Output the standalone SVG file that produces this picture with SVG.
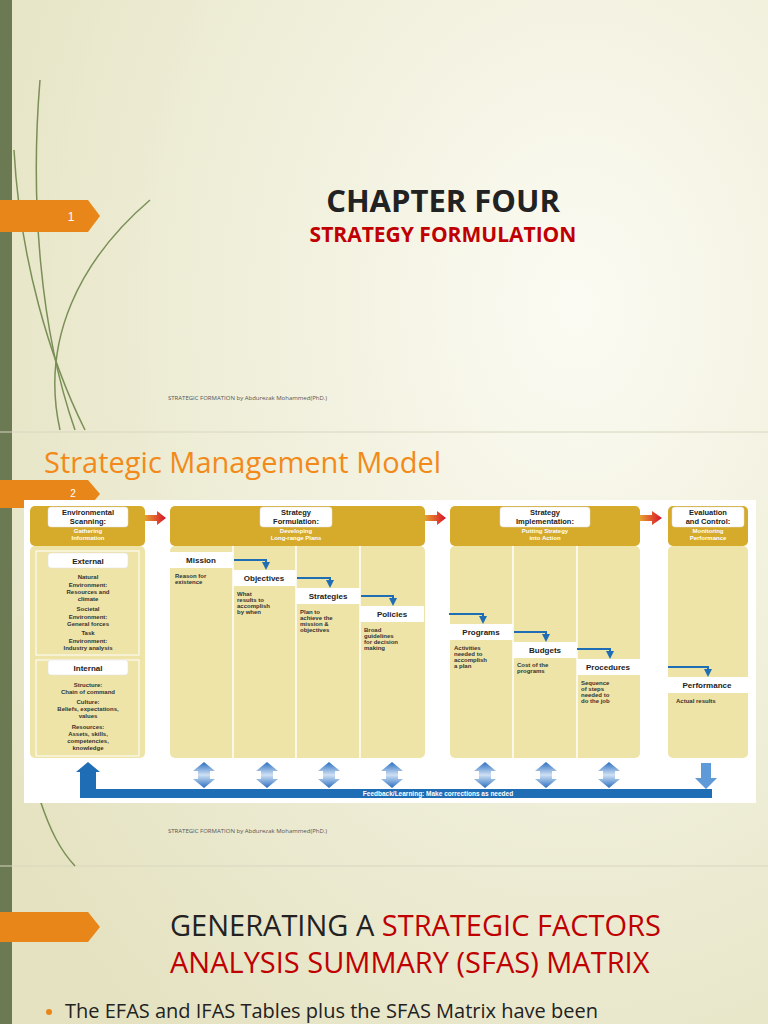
<svg xmlns="http://www.w3.org/2000/svg" width="768" height="1024" viewBox="0 0 768 1024">
<defs>
<radialGradient id="bg" cx="0.75" cy="0.3" r="0.9"><stop offset="0" stop-color="#fbfbf3"/><stop offset="1" stop-color="#e4e2c0"/></radialGradient>
<linearGradient id="red" x1="0" x2="1"><stop offset="0" stop-color="#e8a030"/><stop offset="1" stop-color="#d8102a"/></linearGradient>
<linearGradient id="bl" x1="0" y1="0" x2="0" y2="1"><stop offset="0" stop-color="#2a6fc0"/><stop offset="0.5" stop-color="#cfe0f4"/><stop offset="1" stop-color="#2a6fc0"/></linearGradient>
<marker id="ah" markerWidth="4" markerHeight="4" refX="2" refY="2" orient="auto" markerUnits="strokeWidth"><path d="M0,0 L4,2 L0,4 z" fill="#1f6db5"/></marker>
</defs>
<style>
.t{font-family:"Liberation Sans",Arial,sans-serif}
.gold{fill:#d6aa2a}
.col{fill:#efe4a8}
.lab{fill:#fff;stroke:#ddd;stroke-width:0.5}
.hb{font-family:"Liberation Sans",Arial,sans-serif;font-size:7.5px;font-weight:bold;fill:#222;text-anchor:middle}
.hw{font-family:"Liberation Sans",Arial,sans-serif;font-size:6px;font-weight:bold;fill:#fff;text-anchor:middle}
.nb{font-family:"Liberation Sans",Arial,sans-serif;font-size:8px;font-weight:bold;fill:#222;text-anchor:middle}
.sm{font-family:"Liberation Sans",Arial,sans-serif;font-size:6px;font-weight:bold;fill:#333}
.smc{font-family:"Liberation Sans",Arial,sans-serif;font-size:6px;font-weight:bold;fill:#333;text-anchor:middle}
.cn{fill:none;stroke:#1f6db5;stroke-width:2}
.foot{font-family:"Open Sans",sans-serif;font-size:6px;fill:#555}
</style>
<rect width="768" height="1024" fill="url(#bg)"/>
<rect x="0" y="0" width="12" height="1024" fill="#6b7a52"/>
<line x1="0" y1="432" x2="768" y2="432" stroke="#d8d6c0" stroke-width="1"/>
<line x1="0" y1="866" x2="768" y2="866" stroke="#d8d6c0" stroke-width="1"/>
<g fill="none" stroke="#5f7a3a" stroke-width="1.5" opacity="0.8">
<path d="M14,150 C20,260 50,360 85,430"/><path d="M40,80 C30,200 40,330 75,430"/><path d="M150,200 C80,260 40,340 60,430"/>
<path d="M40,800 C50,830 60,850 75,866"/>
</g>
<g id="tab1"><path d="M0,200 H88 L100,216 L88,232 H0 z" fill="#e8861a"/><text x="71" y="221" class="t" font-size="12" fill="#fff" text-anchor="middle">1</text></g>
<g id="tab2"><path d="M0,480 H88 L100,494 L88,508 H0 z" fill="#e8861a"/><text x="73" y="497" class="t" font-size="10" fill="#fff" text-anchor="middle">2</text></g>
<g id="tab3"><path d="M0,912 H88 L100,927 L88,942 H0 z" fill="#e8861a"/></g>
<text x="443" y="212" font-family="'Open Sans',sans-serif" font-size="31" font-weight="bold" fill="#222" text-anchor="middle">CHAPTER FOUR</text>
<text x="443" y="242" font-family="'Open Sans',sans-serif" font-size="21" font-weight="bold" fill="#c00000" text-anchor="middle">STRATEGY FORMULATION</text>
<text x="168" y="400" class="foot">STRATEGIC FORMATION by Abdurezak Mohammed(PhD.)</text>
<text x="44" y="473" font-family="'Open Sans',sans-serif" font-size="29" fill="#f28a1a">Strategic Management Model</text>
<text x="168" y="833" class="foot">STRATEGIC FORMATION by Abdurezak Mohammed(PhD.)</text>
<text x="170" y="936" font-family="'Open Sans',sans-serif" font-size="29" fill="#222">GENERATING A <tspan fill="#c00000">STRATEGIC FACTORS</tspan></text>
<text x="170" y="973" font-family="'Open Sans',sans-serif" font-size="29" fill="#c00000">ANALYSIS SUMMARY (SFAS) MATRIX</text>
<circle cx="49" cy="1012" r="3" fill="#e8861a"/>
<text x="65" y="1018" font-family="'Open Sans',sans-serif" font-size="20" fill="#222">The EFAS and IFAS Tables plus the SFAS Matrix have been</text>

<rect x="24" y="500" width="732" height="303" fill="#fff"/>
<g id="env">
<rect x="30" y="546" width="115" height="212" rx="5" class="col"/>
<rect x="30" y="506" width="115" height="40" rx="5" class="gold"/>
<rect x="48" y="507" width="80" height="20" rx="3" class="lab"/>
<text x="88" y="515" class="hb">Environmental</text><text x="88" y="524" class="hb">Scanning:</text>
<text x="88" y="533" class="hw">Gathering</text><text x="88" y="540" class="hw">Information</text>
<rect x="36" y="551" width="103" height="104" fill="none" stroke="#fff" stroke-width="1"/>
<rect x="48" y="553" width="80" height="15" rx="3" class="lab"/><text x="88" y="564" class="nb">External</text>
<text x="88" y="579" class="smc" font-size="7">Natural</text><text x="88" y="587" class="smc" font-size="7">Environment:</text>
<text x="88" y="594" class="smc">Resources and</text><text x="88" y="601" class="smc">climate</text>
<text x="88" y="611" class="smc" font-size="7">Societal</text><text x="88" y="619" class="smc" font-size="7">Environment:</text>
<text x="88" y="626" class="smc">General forces</text>
<text x="88" y="635" class="smc" font-size="7">Task</text><text x="88" y="643" class="smc" font-size="7">Environment:</text>
<text x="88" y="650" class="smc">Industry analysis</text>
<rect x="36" y="660" width="103" height="96" fill="none" stroke="#fff" stroke-width="1"/>
<rect x="48" y="660" width="80" height="15" rx="3" class="lab"/><text x="88" y="671" class="nb">Internal</text>
<text x="88" y="687" class="smc" font-size="7">Structure:</text><text x="88" y="694" class="smc">Chain of command</text>
<text x="88" y="704" class="smc" font-size="7">Culture:</text><text x="88" y="711" class="smc">Beliefs, expectations,</text><text x="88" y="718" class="smc">values</text>
<text x="88" y="729" class="smc" font-size="7">Resources:</text><text x="88" y="736" class="smc">Assets, skills,</text>
<text x="88" y="743" class="smc">competencies,</text><text x="88" y="750" class="smc">knowledge</text>
</g>
<g id="form">
<rect x="170" y="546" width="255" height="212" rx="5" class="col"/>
<g stroke="#fff" stroke-width="1.5"><line x1="233" y1="546" x2="233" y2="758"/><line x1="296" y1="546" x2="296" y2="758"/><line x1="360" y1="546" x2="360" y2="758"/></g>
<rect x="170" y="506" width="255" height="40" rx="5" class="gold"/>
<rect x="260" y="507" width="72" height="20" rx="3" class="lab"/>
<text x="296" y="515" class="hb">Strategy</text><text x="296" y="524" class="hb">Formulation:</text>
<text x="296" y="533" class="hw">Developing</text><text x="296" y="540" class="hw">Long-range Plans</text>
</g>
<g id="mission"><rect x="169" y="552" width="64" height="16" fill="#fff"/><text x="201" y="563" class="nb">Mission</text>
<text x="175" y="578" class="sm">Reason for</text><text x="175" y="584" class="sm">existence</text></g>
<g id="objectives"><rect x="233" y="570" width="63" height="16" fill="#fff"/><text x="264" y="581" class="nb">Objectives</text>
<text x="237" y="596" class="sm">What</text><text x="237" y="602" class="sm">results to</text><text x="237" y="608" class="sm">accomplish</text><text x="237" y="614" class="sm">by when</text></g>
<g id="strategies"><rect x="296" y="588" width="64" height="16" fill="#fff"/><text x="328" y="599" class="nb">Strategies</text>
<text x="300" y="614" class="sm">Plan to</text><text x="300" y="620" class="sm">achieve the</text><text x="300" y="626" class="sm">mission &amp;</text><text x="300" y="632" class="sm">objectives</text></g>
<g id="policies"><rect x="360" y="606" width="64" height="16" fill="#fff"/><text x="392" y="617" class="nb">Policies</text>
<text x="364" y="632" class="sm">Broad</text><text x="364" y="638" class="sm">guidelines</text><text x="364" y="644" class="sm">for decision</text><text x="364" y="650" class="sm">making</text></g>
<g id="impl">
<rect x="450" y="546" width="190" height="212" rx="5" class="col"/>
<g stroke="#fff" stroke-width="1.5"><line x1="513" y1="546" x2="513" y2="758"/><line x1="577" y1="546" x2="577" y2="758"/></g>
<rect x="450" y="506" width="190" height="40" rx="5" class="gold"/>
<rect x="500" y="507" width="90" height="20" rx="3" class="lab"/>
<text x="545" y="515" class="hb">Strategy</text><text x="545" y="524" class="hb">Implementation:</text>
<text x="545" y="533" class="hw">Putting Strategy</text><text x="545" y="540" class="hw">into Action</text>
</g>
<g id="programs"><rect x="449" y="624" width="64" height="16" fill="#fff"/><text x="481" y="635" class="nb">Programs</text>
<text x="454" y="650" class="sm">Activities</text><text x="454" y="656" class="sm">needed to</text><text x="454" y="662" class="sm">accomplish</text><text x="454" y="668" class="sm">a plan</text></g>
<g id="budgets"><rect x="513" y="642" width="64" height="16" fill="#fff"/><text x="545" y="653" class="nb">Budgets</text>
<text x="517" y="667" class="sm">Cost of the</text><text x="517" y="673" class="sm">programs</text></g>
<g id="procedures"><rect x="577" y="659" width="63" height="16" fill="#fff"/><text x="608" y="670" class="nb">Procedures</text>
<text x="581" y="685" class="sm">Sequence</text><text x="581" y="691" class="sm">of steps</text><text x="581" y="697" class="sm">needed to</text><text x="581" y="703" class="sm">do the job</text></g>
<g id="eval">
<rect x="668" y="546" width="80" height="212" rx="5" class="col"/>
<rect x="668" y="506" width="80" height="40" rx="5" class="gold"/>
<rect x="672" y="507" width="72" height="20" rx="3" class="lab"/>
<text x="708" y="515" class="hb">Evaluation</text><text x="708" y="524" class="hb">and Control:</text>
<text x="708" y="533" class="hw">Monitoring</text><text x="708" y="540" class="hw">Performance</text>
</g>
<g id="performance"><rect x="667" y="677" width="81" height="16" fill="#fff"/><text x="707" y="688" class="nb">Performance</text>
<text x="676" y="703" class="sm">Actual results</text></g>
<g id="connectors">
<path d="M145,515 H157 V511 L166,518 L157,525 V521 H145 z" fill="url(#red)"/>
<path d="M425,515 H437 V511 L446,518 L437,525 V521 H425 z" fill="url(#red)"/>
<path d="M640,515 H652 V511 L662,518 L652,525 V521 H640 z" fill="url(#red)"/>
<path class="cn" d="M234,560 H266 V566" marker-end="url(#ah)"/>
<path class="cn" d="M297,578 H330 V584" marker-end="url(#ah)"/>
<path class="cn" d="M361,596 H393 V602" marker-end="url(#ah)"/>
<path class="cn" d="M449,614 H483 V620" marker-end="url(#ah)"/>
<path class="cn" d="M514,632 H546 V638" marker-end="url(#ah)"/>
<path class="cn" d="M577,649 H610 V655" marker-end="url(#ah)"/>
<path class="cn" d="M668,667 H708 V673" marker-end="url(#ah)"/>
<g fill="url(#bl)">
<path d="M204,762 L215,771 H210 V779 H215 L204,788 L193,779 H198 V771 H193 z"/>
<path d="M267,762 L278,771 H273 V779 H278 L267,788 L256,779 H261 V771 H256 z"/>
<path d="M329,762 L340,771 H335 V779 H340 L329,788 L318,779 H323 V771 H318 z"/>
<path d="M392,762 L403,771 H398 V779 H403 L392,788 L381,779 H386 V771 H381 z"/>
<path d="M485,762 L496,771 H491 V779 H496 L485,788 L474,779 H479 V771 H474 z"/>
<path d="M546,762 L557,771 H552 V779 H557 L546,788 L535,779 H540 V771 H535 z"/>
<path d="M609,762 L620,771 H615 V779 H620 L609,788 L598,779 H603 V771 H598 z"/>
</g>
<path d="M701,763 H711 V778 H717 L706,789 L695,778 H701 z" fill="#5e9ad8"/>
<path d="M80,798 V772 H76 L88,762 L100,772 H96 V789 H712 V798 z" fill="#1f6db5"/>
<text x="438" y="796" class="t" font-size="6.5" font-weight="bold" fill="#fff" text-anchor="middle">Feedback/Learning: Make corrections as needed</text>
</g>
</svg>
